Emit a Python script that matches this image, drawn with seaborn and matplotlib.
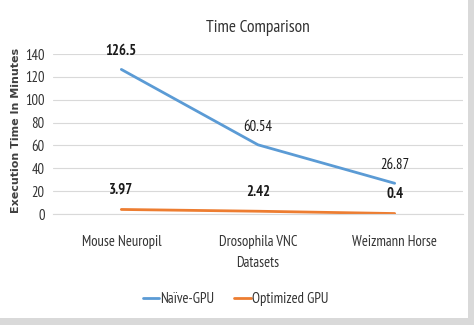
import matplotlib
matplotlib.use("Agg")
import matplotlib.pyplot as plt
import seaborn as sns
import pandas as pd
from matplotlib.patches import Rectangle

categories = ["Mouse Neuropil", "Drosophila VNC", "Weizmann Horse"]
naive_gpu = [126.5, 60.54, 26.87]
optimized_gpu = [3.97, 2.42, 0.4]
series_names = ["Naïve-GPU", "Optimized GPU"]
yticks = [0, 20, 40, 60, 80, 100, 120, 140]

sns.set_theme(style="white")
plt.rcParams['font.family'] = ['PT Sans Narrow', 'DejaVu Sans']

df = pd.DataFrame({
    "x": [0, 1, 2] * 2,
    "Time": naive_gpu + optimized_gpu,
    "Series": [series_names[0]] * 3 + [series_names[1]] * 3,
})

fig = plt.figure(figsize=(4.74, 3.25), dpi=100)
fig.patch.set_facecolor("#d9d9d9")
fig.patches.append(Rectangle((0, 7 / 325), 468 / 474, 1, transform=fig.transFigure,
                             facecolor="white", edgecolor="none", zorder=-9))

ax = fig.add_axes([53 / 474, 1 - 214 / 325, 410 / 474, 160 / 325])
ax.set_facecolor("white")
palette = {series_names[0]: "#5B9BD5", series_names[1]: "#ED7D31"}
sns.lineplot(data=df, x="x", y="Time", hue="Series", palette=palette,
             linewidth=2, ax=ax, legend=True)

ax.set_xlim(-0.5, 2.5)
ax.set_ylim(0, 140)
ax.set_yticks(yticks)
ax.set_xticks([0, 1, 2])
ax.set_xticklabels(categories)
ax.grid(axis="y", color="#d9d9d9", linewidth=0.8)
ax.set_axisbelow(True)
for s in ["top", "right", "left"]:
    ax.spines[s].set_visible(False)
ax.spines["bottom"].set_color("#d9d9d9")
ax.spines["bottom"].set_linewidth(0.8)
fs = 10.5
tc = "#333333"
ax.tick_params(axis="y", length=0, pad=6, labelsize=fs, labelcolor=tc)
ax.tick_params(axis="x", length=0, pad=15, labelsize=fs, labelcolor=tc)

ax.set_xlabel("Datasets", fontsize=fs, color=tc, labelpad=5)
ax.set_ylabel("")
fig.text(16 / 474, 1 - 130 / 325, "Execution Time In Minutes", rotation=90,
         ha="center", va="center", fontsize=8, fontweight="bold",
         color="#404040", family=["DejaVu Sans"])
ax.set_title("Time Comparison", fontsize=12.5, color=tc, pad=16)

bold_flags_naive = [True, False, False]
for i, v in enumerate(naive_gpu):
    ax.annotate(f"{v:g}", (i, v), xytext=(0, 8), textcoords="offset points",
                ha="center", va="bottom", fontsize=fs, color="#1a1a1a",
                fontweight="bold" if bold_flags_naive[i] else "normal")
for i, v in enumerate(optimized_gpu):
    ax.annotate(f"{v:g}", (i, v), xytext=(0, 9), textcoords="offset points",
                ha="center", va="bottom", fontsize=fs, color="#1a1a1a",
                fontweight="bold")

handles, labels = ax.get_legend_handles_labels()
ax.legend(handles, labels, loc="center", bbox_to_anchor=(0.445, -0.53),
          ncol=2, frameon=False, fontsize=fs, handlelength=1.1,
          handletextpad=0.1, columnspacing=1.4, labelcolor=tc)

fig.savefig("out.png", dpi=100)
